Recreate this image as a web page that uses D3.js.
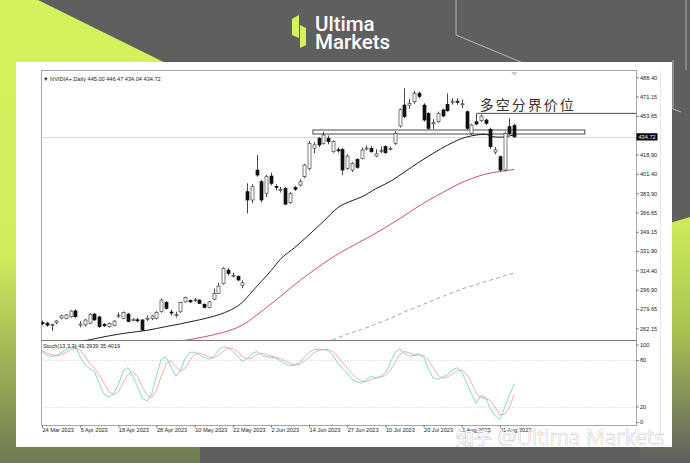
<!DOCTYPE html>
<html><head><meta charset="utf-8">
<script src="https://cdn.jsdelivr.net/npm/d3@7"></script>
<style>body{margin:0;background:#5f5f5f;overflow:hidden}svg{display:block}</style>
</head><body>
<svg id="c" width="690" height="463"></svg>
<script>
// ---------------- DATA ----------------
const symbolTitle = "▼ NVIDIA+,Daily  445.00 446.47 434.04 434.72";
const stochTitle = "Stoch(13,3,3) 49.3939 35.4019";
const dateLabels = ["24 Mar 2023","5 Apr 2023","18 Apr 2023","28 Apr 2023","10 May 2023","22 May 2023","2 Jun 2023","14 Jun 2023","27 Jun 2023","10 Jul 2023","20 Jul 2023","1 Aug 2023","11 Aug 2023"];
const dateLabelBars = [0,8,16,24,32,40,48,56,64,72,80,88,96];
const priceTicks = [488.40,471.15,453.65,418.90,401.40,383.90,366.65,349.15,331.90,314.40,296.90,279.65,262.15];
const stochTicks = [100,80,20,0];
const lastPrice = 434.72;

const opens = [267.6,266.8,264.6,267.3,271.4,271.0,272.6,277.8,265.0,265.2,
266.8,274.9,272.4,265.8,263.8,264.6,273.6,271.2,275.0,269.0,
269.8,269.7,270.8,271.0,271.2,277.2,285.6,276.8,273.8,277.0,
286.0,287.2,287.4,287.6,283.8,280.8,288.4,293.6,302.6,314.6,
309.5,308.8,300.6,385.3,377.8,404.8,394.3,383.8,399.4,390.0,
386.5,388.3,375.4,389.0,391.3,398.8,406.3,424.5,433.4,428.9,
433.4,421.3,423.0,423.4,406.3,404.8,414.4,415.3,424.0,424.4,
417.5,421.6,425.9,423.6,428.9,444.5,463.4,463.3,466.4,474.0,
463.4,455.9,446.5,448.4,459.0,464.0,466.0,466.8,464.0,457.4,
437.9,448.4,449.3,449.9,441.5,421.0,416.8,404.8,443.9,445.00];
const highs = [269.2,268.0,266.4,269.5,274.3,275.0,278.4,279.3,268.5,270.5,
275.6,276.0,273.5,266.8,267.3,269.4,276.5,277.3,276.0,271.3,
271.5,270.3,273.8,274.0,277.5,289.0,286.7,279.0,277.0,286.2,
290.6,288.2,289.5,288.3,284.6,286.8,298.0,303.2,317.2,316.4,
312.0,309.8,305.5,392.8,392.0,418.3,396.0,400.5,402.5,392.0,
389.5,389.5,385.0,390.5,396.5,410.5,431.0,430.0,434.5,439.4,
436.0,431.5,425.0,424.5,419.0,412.0,415.5,425.0,427.0,426.5,
423.5,426.0,427.0,425.8,440.0,460.5,478.5,469.0,476.0,475.5,
465.0,457.0,450.5,457.5,460.0,473.9,469.5,469.5,468.5,458.5,
446.5,455.8,455.0,451.2,443.0,425.5,418.0,439.0,451.4,446.47];
const lows = [264.8,263.5,259.8,265.9,270.2,270.3,271.8,271.6,263.0,263.8,
266.0,268.8,262.5,263.3,262.8,264.0,271.6,270.5,267.6,268.4,
267.5,260.0,268.8,269.5,270.2,276.3,279.0,273.7,272.0,276.2,
285.2,285.3,286.0,284.0,280.2,280.2,287.6,293.0,301.6,309.8,
307.8,304.8,298.2,365.7,375.0,398.8,375.5,380.5,391.0,386.5,
384.5,373.0,374.5,386.0,390.0,397.5,404.5,420.0,425.5,427.8,
428.0,420.5,420.5,400.3,405.0,403.0,406.0,414.5,422.5,420.5,
416.5,420.0,419.5,422.4,427.5,443.0,451.5,460.0,464.5,469.5,
448.5,441.0,441.8,447.5,452.5,457.5,463.8,463.5,460.5,441.0,
436.5,445.2,448.3,445.5,424.0,419.0,403.5,403.5,436.5,434.04];
const closes = [266.2,265.0,265.6,268.8,273.4,274.2,277.7,272.6,266.0,269.6,
274.7,269.7,263.6,264.4,266.4,268.6,274.0,276.4,268.2,270.3,
269.4,260.6,271.2,273.2,276.6,287.6,280.0,276.2,274.5,285.5,
289.8,285.9,287.8,284.6,281.0,286.0,293.6,300.2,316.2,311.6,
310.0,305.7,303.1,377.8,389.8,400.3,377.8,398.8,392.8,389.2,
387.2,374.1,383.8,387.5,394.3,409.3,428.9,427.5,427.4,436.4,
430.4,430.4,422.6,404.8,417.4,410.8,407.2,422.8,424.6,421.3,
419.5,422.4,420.4,424.3,437.9,459.2,452.9,465.0,474.0,471.0,
449.9,442.4,447.5,455.9,453.5,458.2,466.8,466.2,464.6,442.4,
445.4,446.3,453.5,446.9,425.8,423.0,404.8,437.9,437.9,434.72];

// moving averages: [bar, price]
const maBlack = [[0,244],[5,247.5],[10,251.8],[14,255.3],[18,258.1],[22,260.3],[26,263.7],[29,266.1],[33,269.8],[36,273.0],[39,277.6],[42,285.5],[44,295],[46,304.5],[48,314],[50,324.5],[53,335],[56,346.5],[59,358.5],[62,370.8],[65,377.2],[67,380.5],[70,388],[73,394.5],[76,403],[79,411.8],[82,419.8],[85,427.2],[88,433.2],[90,435.6],[92,436.8],[93,437],[94,435.5],[95,434.6],[96,434.4],[97,434.8],[98,435.6],[99,436.4]];
const maRed = [[25,248],[30,251.3],[34,254.5],[38,258.5],[42,265],[45,274],[48,284],[51,294.5],[54,305],[57,314.5],[60,323.5],[63,331.5],[66,338.5],[69,345.5],[72,353],[75,361],[78,369.5],[81,377.5],[84,384.5],[87,391.5],[90,397],[93,401.2],[96,403.5],[99,405.3]];
const maGray = [[58,249],[61,252],[64,257],[67,261],[70,266],[73,271],[76,277],[79,282],[82,287.5],[85,292.5],[88,297.5],[91,301.5],[94,305.5],[97,309.5],[99,312]];

const stochMain = [91,86,84.5,86,89.5,93,96,98,84,74,69,65,50,36,32,37,48,66,70,60,
46,31,27,36,60,81,84,72,59,66,82,90,90,87,83,81,84,93,97,96,
91,85,78,82,88,91,87,84.5,83.5,82.5,79,75,72.5,73.5,77,84,90,93.5,93.5,93.5,
92.5,86,76,69,63,55,52,50,55,58.7,57,59,63,76,90,94,89,85,86,88,
84,69,57,55,58,61,67,70,65,51,37,24,34,32,17,8,3,19,34,49.39];
const stochSignal = [92,89,87,85.5,86.7,89.5,92.8,95.7,92.7,85.3,75.7,69.3,61.3,50.3,39.3,35,39,50.3,61.3,65.3,
58.7,45.7,34.7,31.3,41,59,75,79,71.7,65.7,69,79.3,87.3,89,86.7,83.7,82.7,86,91.3,95.3,
94.7,90.7,84.7,81.7,82.7,87,88.7,87.5,85,83.5,81.7,78.8,75.5,73.7,74.3,78.2,83.7,89.2,92.3,93.5,
93.2,90.7,84.8,77,69.3,62.3,56.7,52.3,52.3,54.6,56.9,58.2,59.7,66,76.3,86.7,91,89.3,86.7,86.3,
86,80.3,70,60.3,56.7,58,62,66,67.3,62,51,37.3,31.7,30,27.7,19,9.3,10,18.7,35.40];

// chart objects (bar index / price)
const zoneBox = {from:56.8, to:113.8, top:440.9, bottom:437.3};
const splitLine = {from:91.2, price:455.9};
const splitLabel = {text:"多空分界价位", bar:91.8, price:458.8};
const watermarkCN = "知乎";
const watermarkEN = "@Ultima Markets";

// ---------------- LAYOUT ----------------
const L = 41.5, R = 636.5, T = 70.5, MB = 340.5, SB = 425.5;
const svg = d3.select('#c');
const FONT = "'Liberation Sans', Arial, sans-serif";

const defs = svg.append('defs');
const gL = defs.append('linearGradient').attr('id','gl').attr('x1',0).attr('y1',0).attr('x2',0).attr('y2',1);
gL.append('stop').attr('offset','0%').attr('stop-color','#d3f25c');
gL.append('stop').attr('offset','55%').attr('stop-color','#cfee5a');
gL.append('stop').attr('offset','100%').attr('stop-color','#6e7a52');
const gR = defs.append('linearGradient').attr('id','gr').attr('x1',0).attr('y1',0).attr('x2',0).attr('y2',1);
gR.append('stop').attr('offset','0%').attr('stop-color','#cdec5a');
gR.append('stop').attr('offset','45%').attr('stop-color','#a9c451');
gR.append('stop').attr('offset','100%').attr('stop-color','#5f5f5f');
defs.append('clipPath').attr('id','cm').append('rect').attr('x',L).attr('y',T).attr('width',R-L).attr('height',MB-T);
defs.append('clipPath').attr('id','cs').append('rect').attr('x',L).attr('y',MB).attr('width',R-L).attr('height',SB-MB);

svg.append('rect').attr('width',690).attr('height',463).attr('fill','#5f5f5f');
svg.append('polygon').attr('points','0,0 38,0 200,80 200,463 0,463').attr('fill','url(#gl)');
svg.append('polygon').attr('points','640,232 690,217 690,463 640,463').attr('fill','url(#gr)');
// decorative outline strokes
svg.append('polyline').attr('points','456,0 456,35 540,70').attr('fill','none').attr('stroke','#cfcfcf').attr('stroke-width',0.8);
svg.append('polyline').attr('points','686,0 686,70').attr('fill','none').attr('stroke','#bdbdbd').attr('stroke-width',0.8);
svg.append('polyline').attr('points','673,60 673,109 681,112').attr('fill','none').attr('stroke','#cfcfcf').attr('stroke-width',0.8);

// logo
const logo = svg.append('g');
logo.append('polygon').attr('points','292,19 299,15 299,38 292,35').attr('fill','#d3f25c');
logo.append('polygon').attr('points','300,25 306,28 306,45 300,48').attr('fill','#d3f25c');
logo.append('text').attr('x',315).attr('y',31).text('Ultima').attr('fill','#fff').attr('font-family','Roboto, Inter, sans-serif').attr('font-size',20.5).attr('font-weight',500);
logo.append('text').attr('x',315).attr('y',48.5).text('Markets').attr('fill','#fff').attr('font-family','Roboto, Inter, sans-serif').attr('font-size',20.5).attr('font-weight',500);

// panel
svg.append('rect').attr('x',16).attr('y',62).attr('width',656).attr('height',385).attr('fill','#fff');

// scales
const x = d3.scaleLinear().domain([0,99]).range([42,514.2]);
const y = d3.scaleLinear().domain([262.15,488.40]).range([328.3,77.3]);
const ys = d3.scaleLinear().domain([0,100]).range([422,344.5]);

// frame
const fr = svg.append('g').attr('fill','none');
fr.append('rect').attr('x',L).attr('y',T).attr('width',R-L).attr('height',SB-T).attr('stroke','#a8a8a8');
fr.append('line').attr('x1',L).attr('x2',R).attr('y1',MB).attr('y2',MB).attr('stroke','#777');
fr.append('line').attr('x1',660.5).attr('x2',660.5).attr('y1',T).attr('y2',SB+12).attr('stroke','#e6e6e6');

// current price line
svg.append('line').attr('x1',L).attr('x2',R).attr('y1',Math.round(y(lastPrice))+0.5).attr('y2',Math.round(y(lastPrice))+0.5).attr('stroke','#d8d8d8');

// stoch levels
svg.append('g').selectAll('line').data([20,80]).join('line')
  .attr('x1',L).attr('x2',R).attr('y1',d=>Math.round(ys(d))+0.5).attr('y2',d=>Math.round(ys(d))+0.5)
  .attr('stroke','#d0d0d0').attr('stroke-dasharray','1,2');

const main = svg.append('g').attr('clip-path','url(#cm)');
// zone box & split line
main.append('rect').attr('x',x(zoneBox.from)).attr('y',y(zoneBox.top)).attr('width',x(zoneBox.to)-x(zoneBox.from)).attr('height',y(zoneBox.bottom)-y(zoneBox.top))
  .attr('fill','none').attr('stroke','#4a4a4a').attr('stroke-width',1);
main.append('line').attr('x1',x(splitLine.from)).attr('x2',R).attr('y1',y(splitLine.price)).attr('y2',y(splitLine.price)).attr('stroke','#4a4a4a');

// moving averages
const lineGen = d3.line().x(d=>x(d[0])).y(d=>y(d[1])).curve(d3.curveMonotoneX);
main.append('path').attr('d',lineGen(maGray)).attr('fill','none').attr('stroke','#9a9a9a').attr('stroke-width',0.9).attr('stroke-dasharray','4,3');
main.append('path').attr('d',lineGen(maRed)).attr('fill','none').attr('stroke','#cf4e6e').attr('stroke-width',1);
main.append('path').attr('d',lineGen(maBlack)).attr('fill','none').attr('stroke','#1e1e1e').attr('stroke-width',1);

// candles
const bars = d3.range(closes.length).map(i=>({i,o:opens[i],h:highs[i],l:lows[i],c:closes[i]}));
const cg = main.append('g');
cg.selectAll('line').data(bars).join('line')
  .attr('x1',d=>Math.round(x(d.i))+0.5).attr('x2',d=>Math.round(x(d.i))+0.5)
  .attr('y1',d=>y(d.h)).attr('y2',d=>y(d.l)).attr('stroke','#333').attr('stroke-width',0.9);
cg.selectAll('rect').data(bars).join('rect')
  .attr('x',d=>Math.round(x(d.i))-1)
  .attr('width',3)
  .attr('y',d=>y(Math.max(d.o,d.c)))
  .attr('height',d=>Math.max(1,Math.abs(y(d.o)-y(d.c))))
  .attr('fill',d=>d.c>=d.o?'#fff':'#111')
  .attr('stroke',d=>d.c>=d.o?'#444':'#111').attr('stroke-width',0.7);

// label for split line
svg.append('text').attr('x',x(splitLabel.bar)).attr('y',y(splitLabel.price)).text(splitLabel.text)
  .attr('font-family',"'Noto Sans CJK SC', sans-serif").attr('font-size',14).attr('fill','#333').attr('letter-spacing',2);

// shift marker
svg.append('path').attr('d',`M${x(99)-3},${T+1.5} L${x(99)+3},${T+1.5} L${x(99)},${T+5} Z`).attr('fill','#c8c8c8');

// stoch lines
const sg = svg.append('g').attr('clip-path','url(#cs)');
const sLine = d3.line().x((d,i)=>x(i)).y(d=>ys(d));
sg.append('path').attr('d',sLine(stochSignal)).attr('fill','none').attr('stroke','#ee9a9a').attr('stroke-width',0.8);
sg.append('path').attr('d',sLine(stochMain)).attr('fill','none').attr('stroke','#6ccac2').attr('stroke-width',0.8);

// titles
svg.append('text').attr('x',43).attr('y',81).text(symbolTitle).attr('font-family',FONT).attr('font-size',5.6).attr('fill','#222');
svg.append('text').attr('x',43).attr('y',348).text(stochTitle).attr('font-family',FONT).attr('font-size',5.6).attr('fill','#222');

// axes
function styleAxis(g){
  g.select('.domain').remove();
  g.selectAll('.tick line').attr('stroke','#666');
  g.selectAll('.tick text').attr('font-family',FONT).attr('font-size',5.6).attr('fill','#222');
}
svg.append('g').attr('transform',`translate(${R},0)`)
  .call(d3.axisRight(y).tickValues(priceTicks).tickSize(2).tickPadding(1.5).tickFormat(d3.format('.2f')))
  .call(styleAxis);
svg.append('g').attr('transform',`translate(${R},0)`)
  .call(d3.axisRight(ys).tickValues(stochTicks).tickSize(2).tickPadding(1.5).tickFormat(d3.format('d')))
  .call(styleAxis);
svg.append('g').attr('transform',`translate(0,${SB})`)
  .call(d3.axisBottom(x).tickValues(dateLabelBars).tickSize(2).tickPadding(1).tickFormat((d,i)=>dateLabels[i]))
  .call(styleAxis)
  .call(g=>g.selectAll('.tick text').attr('text-anchor','start'));

// last price tag
const lpY = y(lastPrice);
svg.append('rect').attr('x',R).attr('y',lpY-3.6).attr('width',21).attr('height',7.2).attr('fill','#000');
svg.append('text').attr('x',R+2).attr('y',lpY).attr('dy','0.35em').text(d3.format('.2f')(lastPrice))
  .attr('font-family',FONT).attr('font-size',5.6).attr('fill','#fff');

// watermark
const wm = svg.append('text').attr('x',456).attr('y',445).attr('fill','#fff').attr('stroke','#8a8a8a').attr('stroke-width',0.5).attr('paint-order','stroke');
wm.append('tspan').text(watermarkCN).attr('font-family',"'Noto Sans CJK SC', sans-serif").attr('font-size',18);
wm.append('tspan').text(' '+watermarkEN).attr('font-family',"'Noto Sans', 'Open Sans', sans-serif").attr('font-weight',300).attr('font-size',21.5);
</script>
</body></html>
